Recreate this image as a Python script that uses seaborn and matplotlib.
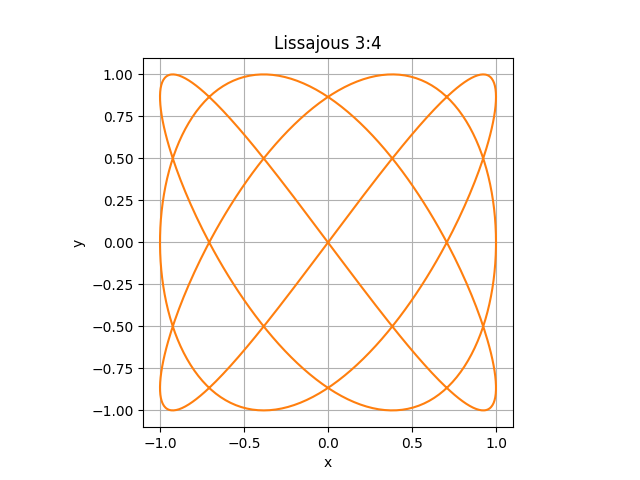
import numpy as np
import pandas as pd
import matplotlib
matplotlib.use("Agg")
import matplotlib.pyplot as plt
import seaborn as sns

freq_x = 3
freq_y = 4
phase_x = np.pi / 2
n_points = 1000

t = np.linspace(0, 2 * np.pi, n_points)
df = pd.DataFrame({"x": np.sin(freq_x * t + phase_x), "y": np.sin(freq_y * t)})

fig, ax = plt.subplots(figsize=(6.4, 4.8), dpi=100)
sns.lineplot(data=df, x="x", y="y", sort=False, estimator=None, color="#ff7f0e", ax=ax)
ax.set_aspect("equal")
ax.grid(True)
ax.set_title("Lissajous 3:4")
ax.set_xlabel("x")
ax.set_ylabel("y")
fig.savefig("out.png")
